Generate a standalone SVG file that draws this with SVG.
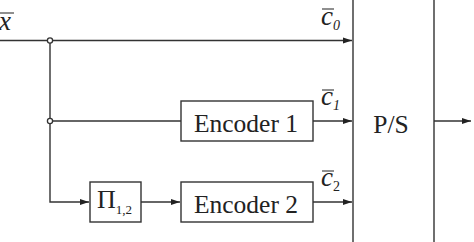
<svg xmlns="http://www.w3.org/2000/svg" width="474" height="242" viewBox="0 0 474 242">
<style>
.ln{stroke:#333;stroke-width:1.4;fill:none}
.box{stroke:#333;stroke-width:1.4;fill:#fff}
.t{font-family:"Liberation Serif","Times New Roman",serif;fill:#222}
.ol{stroke:#333;stroke-width:1.1}
</style>
<defs>
<marker id="ah" markerUnits="userSpaceOnUse" markerWidth="10" markerHeight="8" refX="9" refY="4" orient="auto">
<path d="M0,1 L9,4 L0,7 Z" fill="#222"/>
</marker>
</defs>
<g id="connectors">
<path class="ln" d="M0,40.5 H352" marker-end="url(#ah)"/>
<path class="ln" d="M50,40.5 V202 H89" marker-end="url(#ah)"/>
<path class="ln" d="M50,121 H181"/>
<path class="ln" d="M141,202 H180" marker-end="url(#ah)"/>
<path class="ln" d="M313,121 H352" marker-end="url(#ah)"/>
<path class="ln" d="M313,202 H352" marker-end="url(#ah)"/>
<path class="ln" d="M434,121 H471" marker-end="url(#ah)"/>
<circle cx="50" cy="40.5" r="2.6" fill="#fff" stroke="#333" stroke-width="1.3"/>
<circle cx="50" cy="121" r="2.6" fill="#fff" stroke="#333" stroke-width="1.3"/>
</g>
<g id="input">
<line class="ol" x1="-1" y1="13" x2="14" y2="13"/>
<text class="t" x="-1" y="30" font-size="27" font-style="italic">x</text>
</g>
<g id="pi">
<rect class="box" x="90" y="182" width="51" height="40"/>
<text class="t" x="97" y="208" font-size="26">Π<tspan font-size="13" dy="6">1,2</tspan></text>
</g>
<g id="encoder1">
<rect class="box" x="181" y="101" width="132" height="40"/>
<text class="t" x="246" y="132" font-size="25.5" text-anchor="middle">Encoder 1</text>
</g>
<g id="encoder2">
<rect class="box" x="181" y="182" width="132" height="40"/>
<text class="t" x="246" y="213" font-size="25.5" text-anchor="middle">Encoder 2</text>
</g>
<g id="ps">
<rect class="box" x="353" y="-3" width="81" height="248"/>
<text class="t" x="391" y="133" font-size="25.5" text-anchor="middle">P/S</text>
</g>
<g id="labels">
<line class="ol" x1="322" y1="9" x2="334" y2="9"/>
<text class="t" x="321" y="25" font-size="27" font-style="italic">c<tspan font-size="14" dy="5">0</tspan></text>
<line class="ol" x1="322" y1="90" x2="334" y2="90"/>
<text class="t" x="321" y="105" font-size="27" font-style="italic">c<tspan font-size="14" dy="5">1</tspan></text>
<line class="ol" x1="322" y1="171" x2="334" y2="171"/>
<text class="t" x="321" y="186" font-size="27" font-style="italic">c<tspan font-size="14" dy="5" font-style="normal">2</tspan></text>
</g>
</svg>
